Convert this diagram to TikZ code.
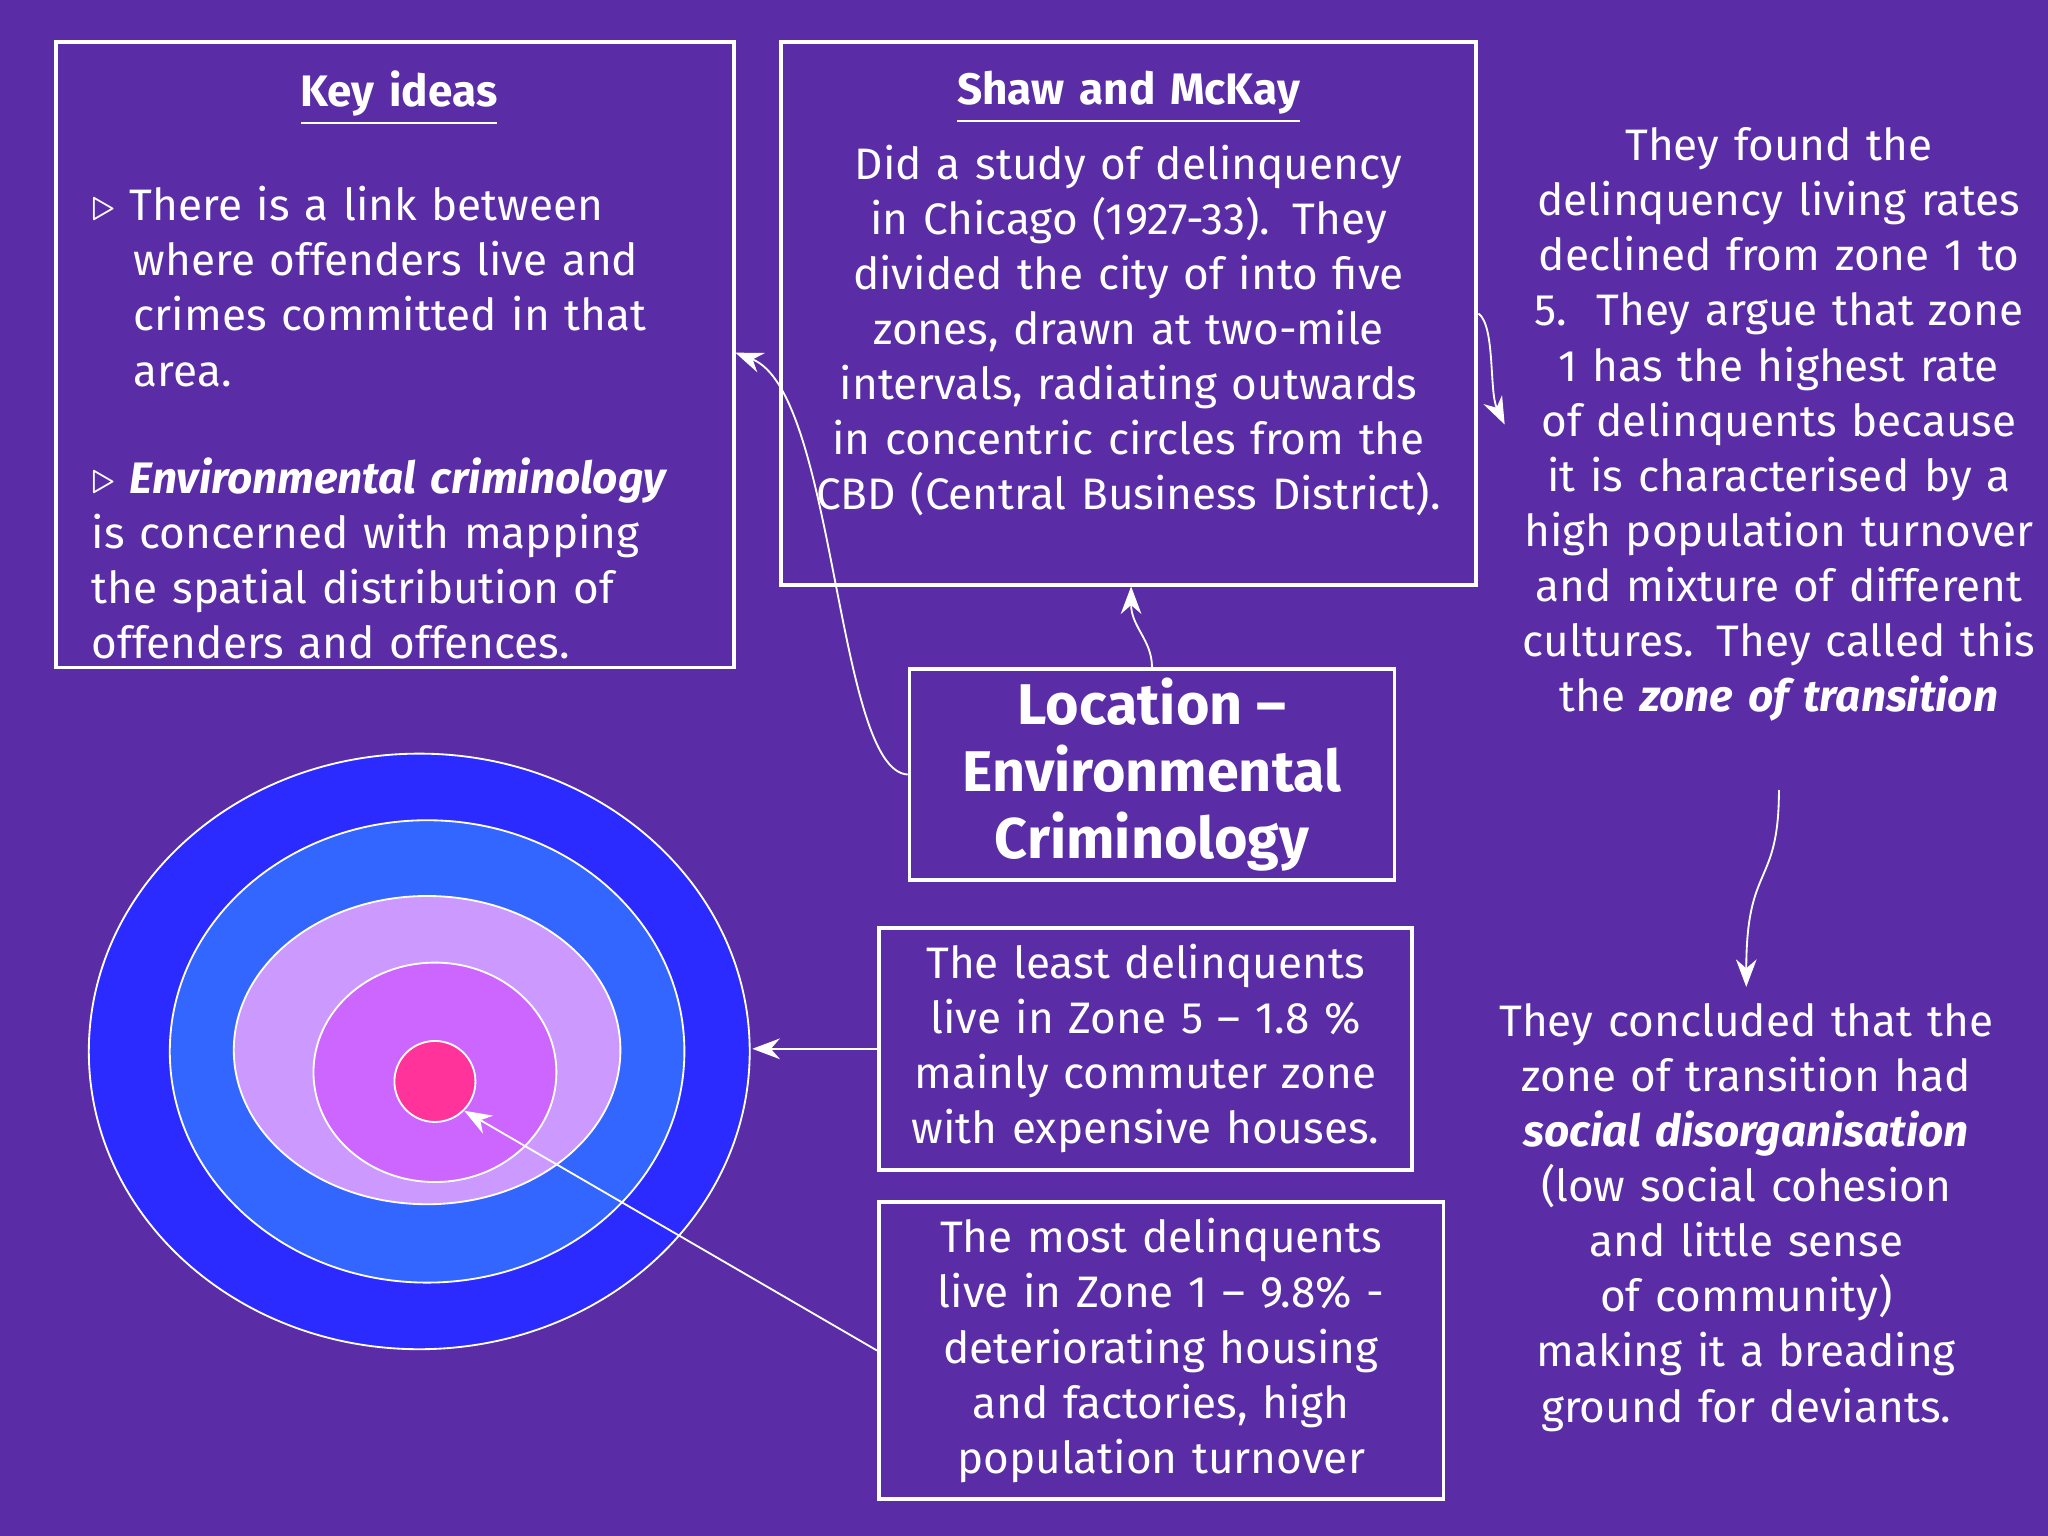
\documentclass[tikz,border=0pt]{standalone}
\usepackage{fontspec}
\setmainfont{Fira Sans}
\usetikzlibrary{arrows.meta}
\definecolor{bg}{HTML}{5A2DA6}
\definecolor{zonea}{HTML}{2B2BFF}
\definecolor{zoneb}{HTML}{3366FF}
\definecolor{zonec}{HTML}{CC99FF}
\definecolor{zoned}{HTML}{CC66FF}
\definecolor{zonee}{HTML}{FF3399}
\hyphenpenalty=10000
\exhyphenpenalty=10000
\tikzset{
  box/.style={draw=white, thick, text=white, align=center, inner sep=2pt},
  plain/.style={text=white, align=center, font=\fontsize{9.6}{12}\selectfont},
  zone/.style={draw=white, thin},
  link/.style={draw=white, thin, -{Stealth[length=6pt]}},
}
\begin{document}
\begin{tikzpicture}[x=0.01cm, y=-0.01cm]
\fill[bg] (0,0) rectangle (1568,1176);
\useasboundingbox (0,0) rectangle (1568,1176);

% Zones
\fill[zone, fill=zonea] (321,805) ellipse [x radius=253, y radius=228];
\fill[zone, fill=zoneb] (327,805) ellipse [x radius=197, y radius=177];
\fill[zone, fill=zonec] (327,804) ellipse [x radius=148, y radius=118];
\fill[zone, fill=zoned] (333,821) ellipse [x radius=93, y radius=84];
\node[zone, circle, fill=zonee, minimum size=0.62cm, inner sep=0] (core) at (333,828) {};
\coordinate (ring) at (576,803);

% Boxes
\draw[white, thick] (43,32) rectangle (562,511);
\node[plain, anchor=north west, align=left, text width=4.7cm] (keys) at (58,42) {%
  \centerline{\textbf{\underline{Key ideas}}}\\[0.45cm]
  \hangindent=0.32cm$\triangleright$ There is a link between where offenders live and crimes committed in that area.\\[0.4cm]
  \hangindent=0.32cm$\triangleright$ \textbf{\textit{Environmental criminology}} is concerned with mapping the spatial distribution of offenders and offences.};
\coordinate (keyside) at (563,270);

\draw[white, thick] (598,32) rectangle (1130,448);
\node[plain, anchor=north, text width=5.1cm] (shaw) at (864,42) {%
  \textbf{\underline{Shaw and McKay}}\\[0.15cm]
  Did a study of delinquency in Chicago (1927-33). They divided the city of\ into five zones, drawn at two-mile intervals, radiating outwards in concentric circles from the CBD (Central Business District).};
\coordinate (shawbot) at (866,449);
\coordinate (shawside) at (1132,240);

\node[box, minimum width=3.71cm, minimum height=1.58cm, font=\fontsize{12.5}{14.5}\selectfont\bfseries] (loc) at (882,593) {Location --\\Environmental\\Criminology};

\node[box, plain, draw=white, thick, minimum width=4.08cm, minimum height=1.85cm, text width=3.9cm] (least) at (877,803) {The least delinquents live in Zone 5 -- 1.8 \% mainly commuter zone with expensive houses.};

\node[box, plain, draw=white, thick, minimum width=4.32cm, minimum height=2.27cm, text width=4.1cm] (most) at (889,1034) {The most delinquents live in Zone 1 -- 9.8\% - deteriorating housing and factories, high population turnover};

\node[plain, text width=3.95cm] (found) at (1362,325) {They found the delinquency living rates declined from zone 1 to 5.\ \ They argue that zone 1 has the highest rate of delinquents because it is characterised by a high population turnover and mixture of different cultures. They called this the \textbf{\textit{zone of transition}}};
\coordinate (foundin) at (1152,325);

\node[plain, text width=3.8cm] (concl) at (1337,932) {They concluded that the zone of transition had \textbf{\textit{social disorganisation}} (low social cohesion and little sense of community) making it a breading ground for deviants.};

% Connectors
\draw[link] (loc.west) .. controls (640,590) and (640,300) .. (keyside);
\draw[link] (loc.north) .. controls (882,490) and (866,480) .. (shawbot);
\draw[link] (shawside) .. controls (1145,250) and (1140,300) .. (foundin);
\draw[link] (1362,605) .. controls (1362,680) and (1337,660) .. (concl.north);
\draw[link] (least.west) -- (ring);
\draw[link] (most.west) -- (core.south east);
\end{tikzpicture}
\end{document}
